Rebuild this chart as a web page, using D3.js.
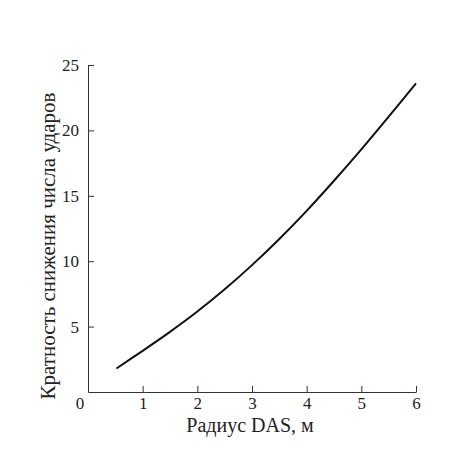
<!DOCTYPE html>
<html>
<head>
<meta charset="utf-8">
<script src="https://cdn.jsdelivr.net/npm/d3@7"></script>
<style>
  body { margin: 0; background: #fff; }
  text { font-family: "Liberation Serif", "Times New Roman", "DejaVu Serif", serif; fill: #222; }
</style>
</head>
<body>
<script>
var width = 474;
var height = 474;

// радиус DAS, м
var radius = [0.52, 1, 1.5, 2, 2.5, 3, 3.5, 4, 4.5, 5, 5.5, 6];
// кратность снижения числа ударов
var reduction = [1.8, 3.15, 4.6, 6.15, 7.85, 9.7, 11.7, 13.85, 16.15, 18.55, 21.05, 23.6];
var xTicks = [1, 2, 3, 4, 5, 6];
var yTicks = [5, 10, 15, 20, 25];
var xTitle = "Радиус DAS,  м";
var yTitle = "Кратность снижения числа ударов";

var margin = {left: 88, right: 58, top: 65, bottom: 82};

var svg = d3.select("body")
    .append("svg")
    .attr("width", width)
    .attr("height", height);

var x = d3.scaleLinear()
    .domain([0, 6])
    .range([margin.left, width - margin.right]);
var y = d3.scaleLinear()
    .domain([0, 25])
    .range([height - margin.bottom, margin.top]);

// ось X, засечки внутрь
var xAxis = svg.append("g")
    .attr("transform", "translate(0," + y(0) + ")")
    .call(d3.axisBottom(x).tickValues(xTicks).tickFormat(d3.format("d"))
        .tickSizeInner(-6).tickSizeOuter(0).tickPadding(5));
xAxis.select(".domain").attr("stroke", "#333");
xAxis.selectAll(".tick line").attr("stroke", "#333");
xAxis.selectAll("text")
    .attr("font-size", 17)
    .attr("fill", "#222");

var yAxis = svg.append("g")
    .attr("transform", "translate(" + x(0) + ",0)")
    .call(d3.axisLeft(y).tickValues(yTicks).tickFormat(d3.format("d"))
        .tickSizeInner(-6).tickSizeOuter(0).tickPadding(9));
yAxis.select(".domain").attr("stroke", "#333");
yAxis.selectAll(".tick line").attr("stroke", "#333");
yAxis.selectAll("text")
    .attr("font-size", 17)
    .attr("fill", "#222");
svg.selectAll("g").attr("font-family", null);

// общий ноль
svg.append("text")
    .attr("x", x(0) - 8)
    .attr("y", y(0) + 17)
    .attr("text-anchor", "middle")
    .attr("font-size", 17)
    .text("0");

var line = d3.line()
    .x(function(d, i) { return x(radius[i]); })
    .y(function(d) { return y(d); })
    .curve(d3.curveCatmullRom);

svg.append("path")
    .datum(reduction)
    .attr("fill", "none")
    .attr("stroke", "#111")
    .attr("stroke-width", 2)
    .attr("d", line);

svg.append("text")
    .attr("x", 250)
    .attr("y", 432)
    .attr("text-anchor", "middle")
    .attr("font-size", 20)
    .text(xTitle);

svg.append("text")
    .attr("transform", "translate(55," + 246 + ") rotate(-90)")
    .attr("text-anchor", "middle")
    .attr("font-size", 21)
    .text(yTitle);
</script>
</body>
</html>
